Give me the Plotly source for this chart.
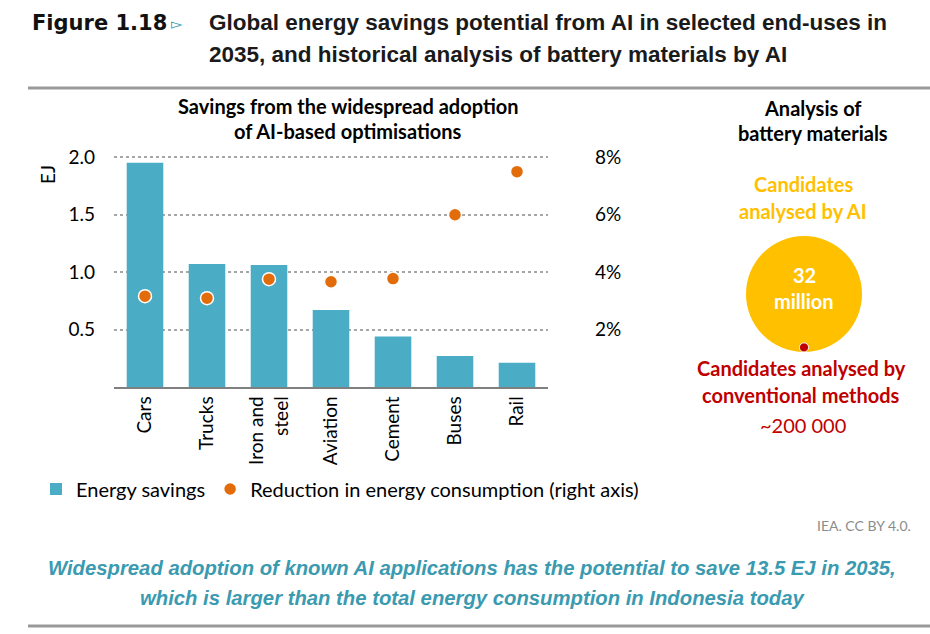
import plotly.graph_objects as go
import math

# ---- data ----
categories = ["Cars", "Trucks", "Iron and<br>steel", "Aviation", "Cement", "Buses", "Rail"]
energy_savings_ej = [1.95, 1.07, 1.06, 0.67, 0.44, 0.27, 0.21]
reduction_pct = [3.16, 3.09, 3.75, 3.66, 3.77, 5.99, 7.49]
left_ticks = [0.5, 1.0, 1.5, 2.0]
left_tick_text = ["0.5", "1.0", "1.5", "2.0"]
right_ticks = [2, 4, 6, 8]
right_tick_text = ["2%", "4%", "6%", "8%"]
battery_labels = ["Candidates analysed by AI", "Candidates analysed by conventional methods"]
battery_values = [32_000_000, 200_000]

W, H = 930, 634
BLUE = "#4BACC6"
ORANGE = "#E36C0A"
YELLOW = "#FFC000"
RED = "#C00000"
TEAL = "#3A9AB0"
BODY = "Lato, Open Sans, sans-serif"
HEAD = "Liberation Sans, Arial, sans-serif"

def px(x):
    return x / W

def py(y):
    return 1 - y / H

fig = go.Figure()

fig.add_trace(go.Bar(
    x=categories, y=energy_savings_ej, name="Energy savings",
    marker=dict(color=BLUE, line=dict(width=0)),
    xaxis="x", yaxis="y",
))
fig.add_trace(go.Scatter(
    x=categories, y=reduction_pct, name="Reduction in energy consumption (right axis)",
    mode="markers",
    marker=dict(color=ORANGE, size=13, line=dict(color="white", width=1.5)),
    xaxis="x", yaxis="y2",
))

# bubbles (area proportional)
dmax = 116
diam = [dmax * math.sqrt(v / max(battery_values)) for v in battery_values]
fig.add_trace(go.Scatter(
    x=[0, 0], y=[d / 2 for d in diam], mode="markers",
    marker=dict(size=diam, color=[YELLOW, RED], line=dict(color="white", width=[0, 1]),
                opacity=1),
    showlegend=False, xaxis="x3", yaxis="y3", hoverinfo="skip",
))

# 2.0 EJ line sits at y=157 px, 0 at 387 px; extend range slightly so top gridline shows
ymax_left = 2.04
ymax_right = 8.16
px_per_unit = (387 - 157) / 2.0
plot_left, plot_right, plot_bottom = 114, 548, 387
plot_top = plot_bottom - ymax_left * px_per_unit

fig.update_layout(
    width=W, height=H,
    margin=dict(l=0, r=0, t=0, b=0),
    paper_bgcolor="white", plot_bgcolor="white",
    bargap=0.41,
    font=dict(family=BODY, size=19, color="black"),
    xaxis=dict(domain=[px(plot_left), px(plot_right)], anchor="y", automargin=False,
               showline=True, linecolor="#808080", linewidth=1.5,
               tickangle=-90, ticks="", tickfont=dict(size=19, family=BODY),
               showgrid=False),
    yaxis=dict(domain=[py(plot_bottom), py(plot_top)], range=[0, ymax_left], automargin=False,
               tickvals=left_ticks, ticktext=left_tick_text,
               showgrid=True, gridcolor="#A6A6A6", griddash="dot", gridwidth=2,
               zeroline=False, showline=False, ticks="",
               tickfont=dict(size=19, family=BODY), ticklabelstandoff=18),
    yaxis2=dict(overlaying="y", side="right", range=[0, ymax_right], anchor="x", automargin=False,
                tickvals=right_ticks, ticktext=right_tick_text,
                showgrid=False, zeroline=False, showline=False, ticks="",
                tickfont=dict(size=19, family=BODY), ticklabelstandoff=46),
    xaxis3=dict(domain=[px(744), px(864)], range=[-60, 60], visible=False,
                anchor="y3", fixedrange=True, automargin=False),
    yaxis3=dict(domain=[py(352), py(232)], range=[0, 120], visible=False,
                anchor="x3", fixedrange=True, automargin=False),
    legend=dict(orientation="h", x=px(36), xanchor="left", y=py(489), yanchor="middle",
                font=dict(size=20, family=BODY), itemwidth=30, traceorder="normal",
                bgcolor="rgba(0,0,0,0)"),
    showlegend=True,
)

anns = []
def ann(text, x, y, size=20, color="black", xanchor="center", family=BODY, **kw):
    anns.append(dict(text=text, x=px(x), y=py(y), xref="paper", yref="paper",
                     xanchor=xanchor, yanchor="middle", showarrow=False,
                     font=dict(size=size, color=color, family=family), **kw))

# title
ann("<b>Figure 1.18</b>", 30, 23, size=21, color="#111111", xanchor="left", family="DejaVu Sans")
ann("▻", 177, 24, size=15, color=TEAL, xanchor="center", family="DejaVu Sans")
ann("<b>Global energy savings potential from AI in selected end-uses in</b>", 207, 23,
    size=22.5, color="#1a1a1a", xanchor="left", family=HEAD)
ann("<b>2035, and historical analysis of battery materials by AI</b>", 207, 54,
    size=22.5, color="#1a1a1a", xanchor="left", family=HEAD)

# panel headings
ann("<b>Savings from the widespread adoption</b>", 348, 106)
ann("<b>of AI-based optimisations</b>", 348, 131)
ann("EJ", 47, 175, size=19, textangle=-90)

ann("<b>Analysis of</b>", 813, 108)
ann("<b>battery materials</b>", 813, 133)
ann("<b>Candidates</b>", 803, 184, color=YELLOW)
ann("<b>analysed by AI</b>", 803, 211, color=YELLOW)
ann("<b>32</b>", 804, 275, color="white")
ann("<b>million</b>", 804, 301, color="white")
ann("<b>Candidates analysed by</b>", 801, 368, color=RED)
ann("<b>conventional methods</b>", 801, 395, color=RED)
ann("~200 000", 803, 425, color=RED)

ann("IEA. CC BY 4.0.", 913, 525, size=14, color="#8C8C8C", xanchor="right")

ann("<b><i>Widespread adoption of known AI applications has the potential to save 13.5 EJ in 2035,</i></b>",
    472, 568, size=20.3, color=TEAL, family=HEAD)
ann("<b><i>which is larger than the total energy consumption in Indonesia today</i></b>",
    472, 598, size=20.3, color=TEAL, family=HEAD)

fig.update_layout(annotations=anns)

fig.update_layout(shapes=[
    dict(type="line", xref="paper", yref="paper", x0=px(28), x1=1, y0=py(88), y1=py(88),
         line=dict(color="#999999", width=3)),
    dict(type="line", xref="paper", yref="paper", x0=px(28), x1=1, y0=py(626), y1=py(626),
         line=dict(color="#999999", width=3)),
])

fig.write_html("out.html")
